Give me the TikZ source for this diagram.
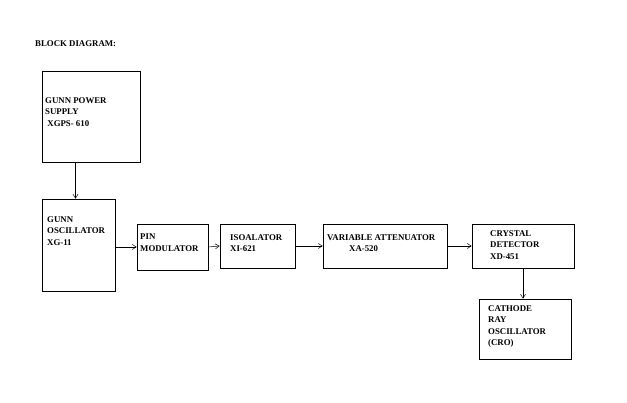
\documentclass[tikz,border=0pt]{standalone}
\usepackage{fontspec}
\setmainfont{Liberation Serif}
\usetikzlibrary{arrows.meta}
\begin{document}
\begin{tikzpicture}[x=1pt,y=-1pt,
  box/.style={draw,line width=0.6pt,inner sep=0pt},
  txt/.style={anchor=north west,align=left,inner sep=0pt,font=\fontsize{8.8}{11.5}\selectfont\bfseries},
  arr/.style={-{Straight Barb[length=4pt,width=5pt]},line width=0.5pt}]
\useasboundingbox (0,0) rectangle (627,403);
\node[txt] (title) at (35,40) {BLOCK DIAGRAM:};
\node[box,minimum width=98pt,minimum height=91pt] (gps) at (91,116.5) {};
\node[txt] (gpst) at (45,97) {GUNN POWER\\SUPPLY\\ \ XGPS- 610};
\node[box,minimum width=73pt,minimum height=92pt] (go) at (78.5,245) {};
\node[txt] (got) at (47,216) {GUNN\\OSCILLATOR\\XG-11};
\node[box,minimum width=71pt,minimum height=46pt] (pin) at (172.5,247) {};
\node[txt] (pint) at (140,234) {PIN\\MODULATOR};
\node[box,minimum width=75pt,minimum height=44pt] (iso) at (257.5,246) {};
\node[txt] (isot) at (230,234) {ISOALATOR\\XI-621};
\node[box,minimum width=124pt,minimum height=44pt] (va) at (385,246) {};
\node[txt] (vat) at (327,234) {VARIABLE ATTENUATOR\\ \hspace{22pt}XA-520};
\node[box,minimum width=102pt,minimum height=44pt] (cd) at (523,246) {};
\node[txt] (cdt) at (490,230) {CRYSTAL\\DETECTOR\\XD-451};
\node[box,minimum width=92pt,minimum height=60pt] (cro) at (525,329) {};
\node[txt] (crot) at (488,305) {CATHODE\\RAY\\OSCILLATOR\\(CRO)};
\draw[arr] (gps.south -| go.north) ++(-3,0) coordinate (a1) -- (a1 |- go.north);
\draw[arr] (go.east |- pin.west) -- (pin.west);
\draw[arr] (pin.east) -- (iso.west);
\draw[arr] (iso.east) -- (va.west);
\draw[arr] (va.east) -- (cd.west);
\draw[arr] (cd.south) -- (cd.south |- cro.north);
\end{tikzpicture}
\end{document}
